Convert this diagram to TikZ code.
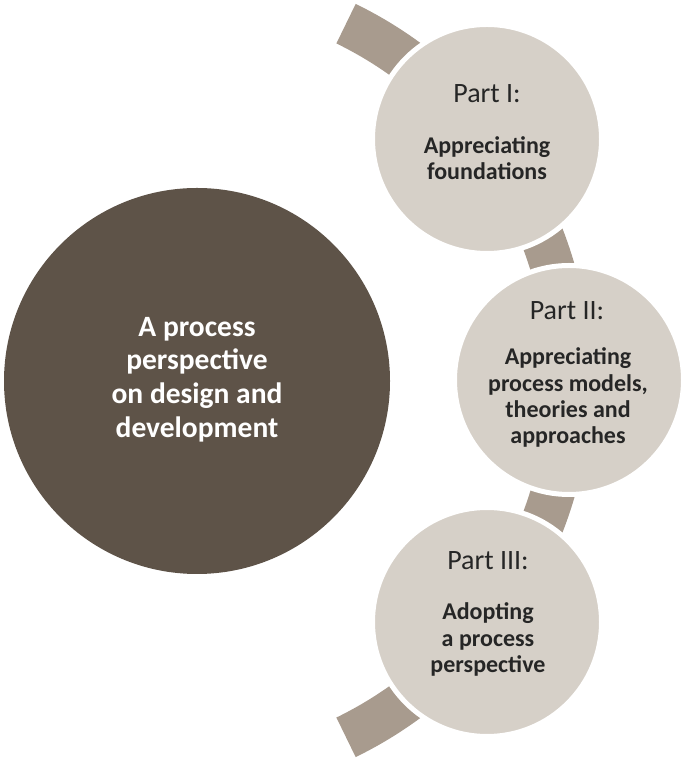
\documentclass[tikz,border=0pt]{standalone}
\usepackage{fontspec}
\setmainfont{Carlito}
\usetikzlibrary{calc}
\definecolor{lightc}{RGB}{214,208,200}
\definecolor{bandc}{RGB}{168,155,142}
\definecolor{darkc}{RGB}{94,83,72}
\definecolor{txtc}{RGB}{38,38,38}
\begin{document}
\begin{tikzpicture}[x=1pt,y=1pt,
  partc/.style={circle, fill=lightc, draw=white, line width=5pt, minimum size=229pt, inner sep=0pt},
  bigc/.style={circle, fill=darkc, minimum size=386pt, inner sep=0pt},
  titlef/.style={anchor=base, text=txtc, font=\fontsize{28}{34}\selectfont, inner sep=0pt},
  bodyf/.style={anchor=base, text=txtc, font=\bfseries\fontsize{24}{26}\selectfont, inner sep=0pt},
  bigf/.style={anchor=base, text=white, font=\bfseries\fontsize{29.5}{34}\selectfont, inner sep=0pt}]
\useasboundingbox (0,0) rectangle (685,759);
\coordinate (rc) at (172,378.5);
% ring band
\fill[bandc] ($(rc)+(64:419)$) arc[start angle=64, end angle=-64, radius=419]
  -- ($(rc)+(-64:375)$) arc[start angle=-64, end angle=64, radius=375] -- cycle;
% big circle
\node[bigc] (big) at (197,378) {};
\node[bigf] (bt1) at (197,422) {A process};
\node[bigf] (bt2) at (197,389) {perspective};
\node[bigf] (bt3) at (197,355) {on design and};
\node[bigf] (bt4) at (197,321) {development};
% part circles
\node[partc] (p1) at (487,620) {};
\node[partc] (p2) at (569,379) {};
\node[partc] (p3) at (487,137) {};
% Part I
\node[titlef] (t1) at (487,656) {Part I:};
\node[bodyf] (a1) at (487,605) {Appreciating};
\node[bodyf] (a2) at (487,579) {foundations};
% Part II
\node[titlef] (t2) at (567,439) {Part II:};
\node[bodyf] (b1) at (568,394) {Appreciating};
\node[bodyf] (b2) at (568,367) {process models,};
\node[bodyf] (b3) at (568,341) {theories and};
\node[bodyf] (b4) at (568,315) {approaches};
% Part III
\node[titlef] (t3) at (488,189) {Part III:};
\node[bodyf] (c1) at (488,139) {Adopting};
\node[bodyf] (c2) at (488,112) {a process};
\node[bodyf] (c3) at (488,86) {perspective};
\end{tikzpicture}
\end{document}
